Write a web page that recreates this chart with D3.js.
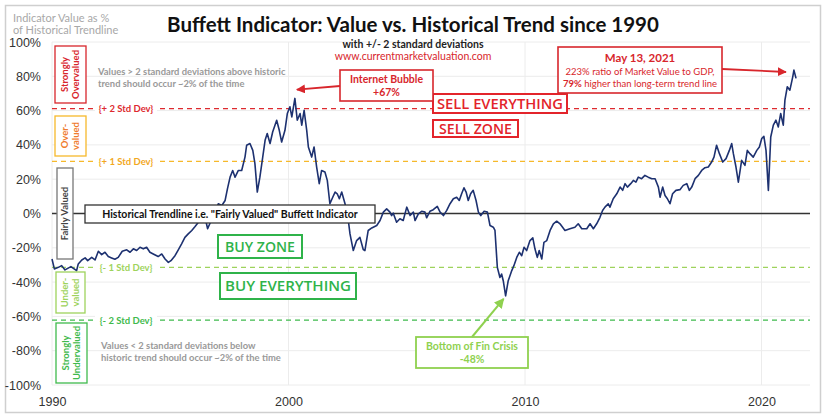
<!DOCTYPE html>
<html>
<head>
<meta charset="utf-8">
<script src="https://cdn.jsdelivr.net/npm/d3@7"></script>
<style>
  body { margin: 0; background: #fff; }
  svg { font-family: Lato, "Open Sans", sans-serif; }
  .grid line { stroke: #ececec; }
  .tick-label { fill: #333; font-size: 12.5px; }
  .zone-txt { font-family: "Open Sans", sans-serif; font-size: 14.5px; font-weight: 600; }
</style>
</head>
<body>
<svg id="chart" width="826" height="420"></svg>
<script>
// indicator value, % above/below historical trendline
const years = [
  1990.0, 1990.1, 1990.27, 1990.41, 1990.55, 1990.8, 1991.04, 1991.11, 1991.26, 1991.4,
  1991.51, 1991.68, 1991.82, 1991.96, 1992.1, 1992.24, 1992.38, 1992.52, 1992.66, 1992.8,
  1992.97, 1993.16, 1993.3, 1993.44, 1993.58, 1993.72, 1993.86, 1994.0, 1994.14, 1994.28,
  1994.49, 1994.64, 1994.78, 1994.92, 1995.03, 1995.2, 1995.34, 1995.48, 1995.62, 1995.76,
  1995.91, 1996.05, 1996.19, 1996.33, 1996.47, 1996.58, 1996.75, 1996.89, 1997.03, 1997.18,
  1997.32, 1997.42, 1997.53, 1997.64, 1997.74, 1997.88, 1998.02, 1998.16, 1998.23, 1998.37,
  1998.49, 1998.58, 1998.68, 1998.79, 1998.91, 1999.01, 1999.1, 1999.22, 1999.33, 1999.5,
  1999.61, 1999.71, 1999.85, 1999.95, 2000.06, 2000.14, 2000.27, 2000.37, 2000.49, 2000.56,
  2000.66, 2000.77, 2000.84, 2000.98, 2001.08, 2001.19, 2001.3, 2001.4, 2001.54, 2001.64,
  2001.75, 2001.87, 2001.97, 2002.06, 2002.15, 2002.25, 2002.39, 2002.53, 2002.6, 2002.74,
  2002.88, 2003.02, 2003.16, 2003.23, 2003.37, 2003.52, 2003.73, 2003.87, 2004.01, 2004.15,
  2004.29, 2004.36, 2004.43, 2004.57, 2004.71, 2004.85, 2005.0, 2005.14, 2005.28, 2005.35,
  2005.49, 2005.63, 2005.77, 2005.84, 2005.98, 2006.12, 2006.29, 2006.41, 2006.55, 2006.69,
  2006.83, 2006.97, 2007.11, 2007.22, 2007.32, 2007.42, 2007.51, 2007.6, 2007.7, 2007.81,
  2007.93, 2008.03, 2008.13, 2008.27, 2008.41, 2008.52, 2008.66, 2008.73, 2008.83, 2008.94,
  2009.01, 2009.08, 2009.18, 2009.29, 2009.44, 2009.53, 2009.65, 2009.76, 2009.86, 2009.96,
  2010.07, 2010.21, 2010.33, 2010.42, 2010.52, 2010.6, 2010.71, 2010.8, 2010.92, 2011.06,
  2011.2, 2011.34, 2011.48, 2011.69, 2011.9, 2012.11, 2012.25, 2012.4, 2012.61, 2012.75,
  2012.89, 2013.03, 2013.17, 2013.28, 2013.38, 2013.52, 2013.59, 2013.73, 2013.88, 2014.02,
  2014.13, 2014.23, 2014.33, 2014.47, 2014.58, 2014.69, 2014.79, 2014.93, 2015.07, 2015.21,
  2015.36, 2015.5, 2015.64, 2015.71, 2015.82, 2015.92, 2016.02, 2016.13, 2016.24, 2016.38,
  2016.55, 2016.69, 2016.84, 2016.95, 2017.05, 2017.19, 2017.33, 2017.47, 2017.61, 2017.75,
  2017.89, 2017.99, 2018.1, 2018.22, 2018.36, 2018.5, 2018.64, 2018.74, 2018.81, 2018.92,
  2019.02, 2019.16, 2019.3, 2019.4, 2019.51, 2019.65, 2019.8, 2019.91, 2020.01, 2020.1,
  2020.19, 2020.29, 2020.39, 2020.5, 2020.61, 2020.71, 2020.81, 2020.92, 2020.99, 2021.09,
  2021.2, 2021.32, 2021.37, 2021.46
];
const values = [
  -26.5, -32.3, -31.4, -30.4, -32.9, -31, -33.3, -29.4, -27.1, -25.9,
  -27.5, -25.6, -27.1, -22, -24, -22.6, -25.1, -25.9, -26.7, -25.6,
  -22, -21.2, -22.6, -20.6, -21.6, -19.7, -20.6, -19.7, -22.6, -23.6,
  -25.1, -23.6, -26.5, -28.5, -27.5, -24.6, -21.2, -17.7, -13.9, -11.9,
  -9.9, -7.6, -5.1, -3.1, -2.2, -8.9, -3.5, -0.2, 5.7, 4.7,
  7.6, 14.5, 21.2, 25.1, 21.2, 25.1, 25.1, 32.9, 39.8, 40.8,
  36.8, 29.1, 12.5, 21.2, 32.9, 42.7, 46.6, 40.8, 47.5, 54.4,
  48.5, 41.7, 48.5, 58.3, 62.2, 56.3, 67.1, 54.4, 58.3, 51.5,
  60.2, 48.5, 38.8, 32.9, 38.8, 27.1, 17.4, 25.1, 24.2, 19.3,
  5.7, 9.5, 12.5, 11.5, 8.6, 12.5, 5.7, -4.1, -11.9, -21.6,
  -15.8, -13.9, -21, -21.6, -9.9, -8.4, -7, -4.1, 0.8, 2.7,
  0.8, -1.2, 0.2, -5.1, -3.1, -4.1, 3.7, -1.2, 0.8, -4.1,
  -0.2, 1.3, 0.8, -2.5, 1.3, 2.2, 4.1, 0.8, -1.2, 1.8,
  5.7, 8.6, 9.5, 7.6, 11.5, 15, 12.5, 7.6, 11.5, 13.5,
  7.6, 0.8, -1.2, 1.3, 0.8, -7, -8, -9.9, -31.4, -37.3,
  -35.3, -39.2, -48, -39.2, -33.3, -30.4, -25.6, -22.6, -24.6, -19.7,
  -21.6, -15.8, -14.2, -20.6, -25.6, -21.6, -26.5, -16.8, -15.8, -9.9,
  -6, -4.5, -6, -9.9, -8.9, -8, -6, -8.9, -8.9, -6,
  -8.9, -6, -2.2, 1.8, 3.7, 5.7, 3.7, 8.6, 11.5, 15.4,
  13.5, 17.4, 15.4, 17.4, 19.3, 18.3, 21.2, 20.3, 22.2, 21.2,
  20.3, 20.3, 15.4, 9.5, 15.4, 10.5, 8.6, 5.7, 11.5, 13.5,
  13.9, 16.4, 17.4, 13.5, 15.4, 20.3, 22.2, 25.1, 26.7, 27.1,
  30, 32.9, 39.8, 34.9, 30, 32, 36.8, 40.8, 34.9, 27.1,
  18.3, 31, 28.1, 36.8, 34.9, 32.9, 36.8, 38.8, 43.7, 45,
  36.8, 13.5, 44.6, 51.5, 54.4, 50.5, 58.3, 51.5, 66.1, 73.9,
  71.9, 79.7, 83.6, 78.8
];

const yTicks = [100, 80, 60, 40, 20, 0, -20, -40, -60, -80, -100];
const xTicks = [1990, 2000, 2010, 2020];
const stdLevels = [61.2, 30.4, -31.4, -62.2];
const stdLabels = ["{+ 2 Std Dev}", "{+ 1 Std Dev}", "{- 1 Std Dev}", "{- 2 Std Dev}"];
const stdColors = ["#dd2a2f", "#f6b92b", "#9ed35c", "#3fba4d"];

const red = "#d8262c";
const navy = "#1d3170";
const dataset = years.map((yr, i) => ({ year: yr, value: values[i] }));

const svg = d3.select("#chart");

const plotLeft = 52, plotRight = 810, plotTop = 42, plotBottom = 385;
const xScale = d3.scaleLinear().domain([1990, 2022.05]).range([plotLeft, plotRight]);
const yScale = d3.scaleLinear().domain([-100, 100]).range([plotBottom, plotTop]);

// outer frame
svg.append("rect")
  .attr("x", 5.5).attr("y", 5.5).attr("width", 815).attr("height", 407)
  .attr("fill", "none").attr("stroke", "#cfcfcf").attr("stroke-width", 1.5);

// grid
const grid = svg.append("g").attr("class", "grid");
grid.selectAll(".h").data(yTicks).enter().append("line")
  .attr("x1", plotLeft).attr("x2", plotRight)
  .attr("y1", (d) => yScale(d)).attr("y2", (d) => yScale(d));
grid.selectAll(".v").data(xTicks).enter().append("line")
  .attr("x1", (d) => xScale(d)).attr("x2", (d) => xScale(d))
  .attr("y1", plotTop).attr("y2", plotBottom);

// axes (labels only)
const yAxis = svg.append("g")
  .attr("transform", `translate(${plotLeft},0)`)
  .call(d3.axisLeft(yScale).tickValues(yTicks).tickSize(0).tickPadding(12).tickFormat((d) => d + "%"));
yAxis.select(".domain").remove();
yAxis.selectAll("text").attr("class", "tick-label").attr("font-family", null).attr("x", -11);

const xAxis = svg.append("g")
  .attr("transform", `translate(0,${plotBottom})`)
  .call(d3.axisBottom(xScale).tickValues(xTicks).tickSize(0).tickPadding(12).tickFormat(d3.format("d")));
xAxis.select(".domain").remove();
xAxis.selectAll("text").attr("class", "tick-label").attr("font-family", null);

// y axis title
svg.append("text").attr("x", 13).attr("y", 22).attr("fill", "#a8a8a8").attr("font-size", 11)
  .text("Indicator Value as %");
svg.append("text").attr("x", 13).attr("y", 34).attr("fill", "#a8a8a8").attr("font-size", 11)
  .text("of Historical Trendline");

// titles
svg.append("text").attr("x", 413).attr("y", 32).attr("text-anchor", "middle")
  .attr("font-weight", 700).attr("font-size", 20.5).attr("fill", "#111")
  .text("Buffett Indicator: Value vs. Historical Trend since 1990");
svg.append("text").attr("x", 413).attr("y", 48).attr("text-anchor", "middle")
  .attr("font-weight", 700).attr("font-size", 10.5).attr("fill", "#222")
  .text("with +/- 2 standard deviations");
svg.append("text").attr("x", 413).attr("y", 60).attr("text-anchor", "middle")
  .attr("font-size", 10.5).attr("fill", red)
  .text("www.currentmarketvaluation.com");

// std deviation lines
stdLevels.forEach((lvl, i) => {
  svg.append("line")
    .attr("x1", plotLeft).attr("x2", plotRight)
    .attr("y1", yScale(lvl)).attr("y2", yScale(lvl))
    .attr("stroke", stdColors[i]).attr("stroke-width", 1.3)
    .attr("stroke-dasharray", "5,4");
  svg.append("rect")
    .attr("x", 95).attr("y", yScale(lvl) - 6).attr("width", 62).attr("height", 12)
    .attr("fill", "#fff");
  svg.append("text")
    .attr("x", 126).attr("y", yScale(lvl) + 3.5).attr("text-anchor", "middle")
    .attr("font-size", 9.5).attr("font-weight", 700).attr("fill", i === 1 ? "#f2a81e" : stdColors[i])
    .text(stdLabels[i]);
});

// trendline
svg.append("line")
  .attr("x1", plotLeft).attr("x2", plotRight)
  .attr("y1", yScale(0)).attr("y2", yScale(0))
  .attr("stroke", "#333").attr("stroke-width", 1.6);

// indicator line
const line = d3.line().x((d) => xScale(d.year)).y((d) => yScale(d.value));
svg.append("path")
  .datum(dataset)
  .attr("d", line)
  .attr("fill", "none")
  .attr("stroke", navy)
  .attr("stroke-width", 1.6)
  .attr("stroke-linejoin", "round");

// helper: white box with border
function box(x, y, w, h, stroke, sw) {
  return svg.append("rect").attr("x", x).attr("y", y).attr("width", w).attr("height", h)
    .attr("fill", "#fff").attr("stroke", stroke).attr("stroke-width", sw);
}

// vertical zone boxes on the left
const zones = [
  { x: 55, y: 46, w: 31, h: 57, stroke: red, fill: red, lines: ["Strongly", "Overvalued"] },
  { x: 55, y: 116, w: 31, h: 40, stroke: "#f6b92b", fill: "#ef7c2e", lines: ["Over-", "valued"] },
  { x: 57, y: 168, w: 16, h: 91, stroke: "#777", fill: "#444", lines: ["Fairly Valued"] },
  { x: 56, y: 272, w: 29, h: 41, stroke: "#9ed35c", fill: "#9ed35c", lines: ["Under-", "valued"] },
  { x: 56, y: 323, w: 31, h: 60, stroke: "#3fba4d", fill: "#3fba4d", lines: ["Strongly", "Undervalued"] },
];
zones.forEach((z) => {
  box(z.x, z.y, z.w, z.h, z.stroke, 1.3);
  const cx = z.x + z.w / 2, cy = z.y + z.h / 2;
  const t = svg.append("text")
    .attr("transform", `translate(${cx},${cy}) rotate(-90)`)
    .attr("text-anchor", "middle").attr("font-size", 9.5).attr("font-weight", 700)
    .attr("fill", z.fill);
  if (z.lines.length === 1) {
    t.append("tspan").attr("x", 0).attr("y", 3.4).text(z.lines[0]);
  } else {
    t.append("tspan").attr("x", 0).attr("y", -2.5).text(z.lines[0]);
    t.append("tspan").attr("x", 0).attr("y", 8.8).text(z.lines[1]);
  }
});

// gray notes
const note = (x, y, s) => svg.append("text").attr("x", x).attr("y", y)
  .attr("font-size", 9.4).attr("font-weight", 700).attr("fill", "#999").text(s);
note(98, 75, "Values > 2 standard deviations above historic");
note(98, 86.5, "trend should occur ~2% of the time");
note(101, 349, "Values < 2 standard deviations below");
note(101, 360.5, "historic trend should occur ~2% of the time");

// trendline label
box(85, 205, 290, 18, "#333", 1.3);
svg.append("text").attr("x", 230).attr("y", 217.5).attr("text-anchor", "middle")
  .attr("font-size", 10.5).attr("font-weight", 700).attr("fill", "#111")
  .text('Historical Trendline i.e. "Fairly Valued" Buffett Indicator');

// buy / sell zone labels
const zoneLabels = [
  { x: 433, y: 94, w: 134, h: 19, tw: 126, c: "#e3242b", s: "SELL EVERYTHING" },
  { x: 433, y: 120, w: 85, h: 17, tw: 73, c: "#e3242b", s: "SELL ZONE" },
  { x: 218, y: 235, w: 84, h: 23, tw: 70, c: "#2fb34a", s: "BUY ZONE" },
  { x: 220, y: 273, w: 136, h: 26, tw: 126, c: "#2fb34a", s: "BUY EVERYTHING" },
];
zoneLabels.forEach((z) => {
  box(z.x, z.y, z.w, z.h, z.c, 2);
  svg.append("text").attr("class", "zone-txt")
    .attr("x", z.x + z.w / 2).attr("y", z.y + z.h / 2 + 5.3).attr("text-anchor", "middle")
    .attr("textLength", z.tw).attr("lengthAdjust", "spacingAndGlyphs")
    .attr("fill", z.c).text(z.s);
});

// arrow markers
const defs = svg.append("defs");
[["arrRed", red], ["arrGreen", "#8fd14f"]].forEach(([id, c]) => {
  defs.append("marker").attr("id", id).attr("viewBox", "0 0 10 10")
    .attr("refX", 9).attr("refY", 5).attr("markerWidth", 5).attr("markerHeight", 5)
    .attr("orient", "auto")
    .append("path").attr("d", "M0,0 L10,5 L0,10 z").attr("fill", c);
});

// internet bubble
box(340, 70, 93, 31, red, 1.6);
svg.append("text").attr("x", 386.5).attr("y", 83).attr("text-anchor", "middle")
  .attr("font-size", 10.5).attr("font-weight", 700).attr("fill", red).text("Internet Bubble");
svg.append("text").attr("x", 386.5).attr("y", 96).attr("text-anchor", "middle")
  .attr("font-size", 10.5).attr("font-weight", 700).attr("fill", red).text("+67%");
svg.append("line").attr("x1", 340).attr("y1", 86).attr("x2", xScale(2000.27) + 2).attr("y2", yScale(67) - 9)
  .attr("stroke", red).attr("stroke-width", 1.8).attr("marker-end", "url(#arrRed)");

// May 2021
box(558, 47, 164, 46, red, 1.6);
svg.append("text").attr("x", 640).attr("y", 62).attr("text-anchor", "middle")
  .attr("font-size", 11.5).attr("font-weight", 700).attr("fill", red).text("May 13, 2021");
svg.append("text").attr("x", 640).attr("y", 75).attr("text-anchor", "middle")
  .attr("font-size", 9.5).attr("fill", red).text("223% ratio of Market Value to GDP,");
const t3 = svg.append("text").attr("x", 640).attr("y", 87).attr("text-anchor", "middle")
  .attr("font-size", 9.5).attr("fill", red);
t3.append("tspan").attr("font-weight", 700).text("79%");
t3.append("tspan").text(" higher than long-term trend line");
svg.append("line").attr("x1", 722).attr("y1", 69).attr("x2", xScale(2021.37) - 8).attr("y2", 72)
  .attr("stroke", red).attr("stroke-width", 1.8).attr("marker-end", "url(#arrRed)");

// bottom of fin crisis
box(416, 337, 112, 31, "#8fd14f", 1.8);
svg.append("text").attr("x", 472).attr("y", 350).attr("text-anchor", "middle")
  .attr("font-size", 10.5).attr("font-weight", 700).attr("fill", "#8fd14f").text("Bottom of Fin Crisis");
svg.append("text").attr("x", 472).attr("y", 363).attr("text-anchor", "middle")
  .attr("font-size", 10.5).attr("font-weight", 700).attr("fill", "#8fd14f").text("-48%");
svg.append("line").attr("x1", 472).attr("y1", 337).attr("x2", xScale(2009.18) - 2).attr("y2", yScale(-48) + 3)
  .attr("stroke", "#8fd14f").attr("stroke-width", 2).attr("marker-end", "url(#arrGreen)");
</script>
</body>
</html>
